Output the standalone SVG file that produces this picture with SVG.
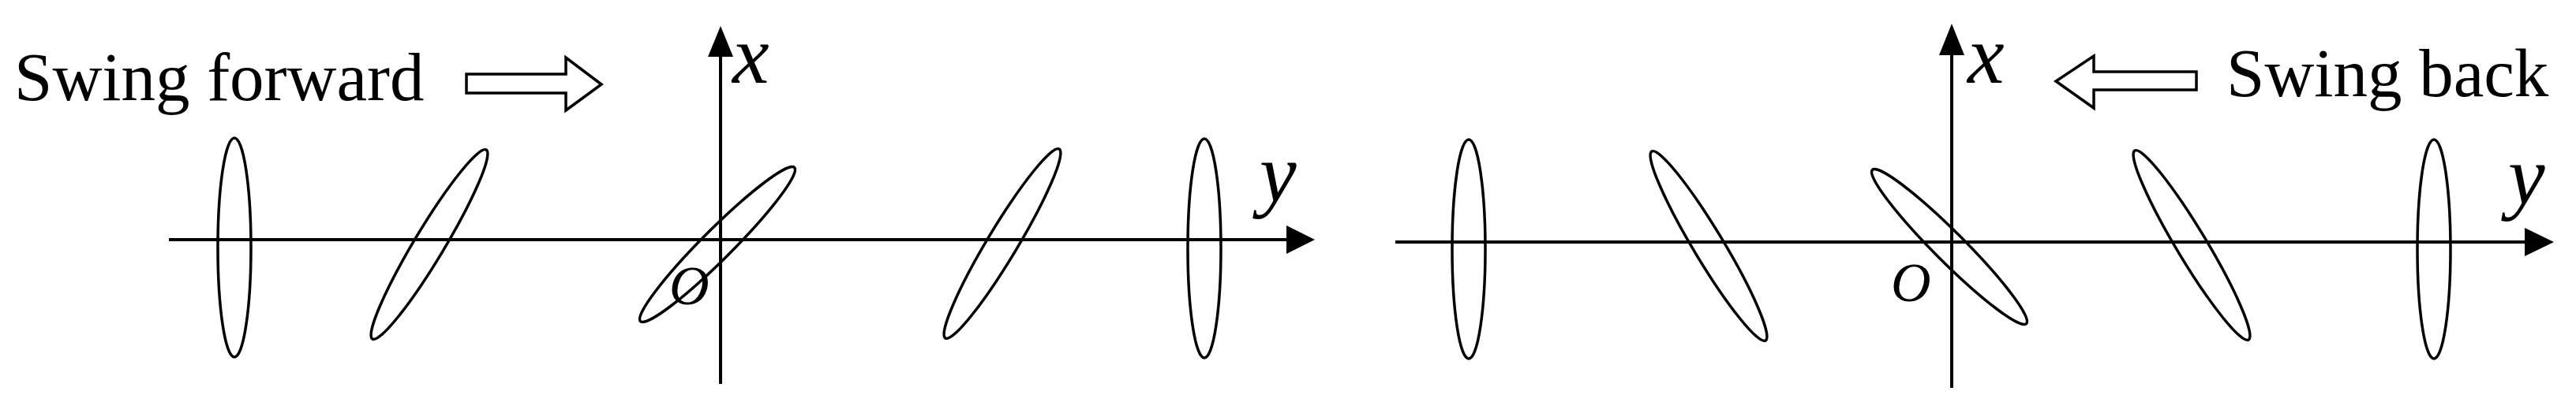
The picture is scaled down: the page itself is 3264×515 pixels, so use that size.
<svg xmlns="http://www.w3.org/2000/svg" width="3264" height="515" viewBox="0 0 3264 515">
<style>
.el{fill:none;stroke:#000;stroke-width:3.5}
.ax{stroke:#000;stroke-width:4;fill:none}
.ah{fill:#000;stroke:none}
.lbl{font-family:"Liberation Serif","Times New Roman",serif;font-style:italic;fill:#000}
.txt{font-family:"Liberation Serif","Times New Roman",serif;font-size:87px;fill:#000}
.blk{fill:#fff;stroke:#000;stroke-width:3.5;stroke-linejoin:miter}
</style>
<rect width="3264" height="515" fill="#fff"/>
<g id="connectors">
  <line class="ax" x1="214" y1="304" x2="1632" y2="304"/>
  <polygon class="ah" points="1630,286 1666,304 1630,322"/>
  <line class="ax" x1="913" y1="487" x2="913" y2="70"/>
  <polygon class="ah" points="897,72 913,33 929,72"/>
  <line class="ax" x1="1768" y1="307" x2="3201" y2="307"/>
  <polygon class="ah" points="3199,289 3236,307 3199,325"/>
  <line class="ax" x1="2473" y1="492" x2="2473" y2="68"/>
  <polygon class="ah" points="2457,70 2473,30 2489,70"/>
</g>
<g id="label-swing-forward">
  <text class="txt" x="18" y="127">Swing forward</text>
  <polygon class="blk" points="591,94 717,94 717,73 762,107 717,140 717,118 591,118"/>
</g>
<g id="label-swing-back">
  <text class="txt" x="2821" y="122">Swing back</text>
  <polygon class="blk" points="2783,91 2653,91 2653,71 2605,103 2653,137 2653,114 2783,114"/>
</g>
<g id="axis-labels">
  <text class="lbl" x="928" y="105" font-size="105">x</text>
  <text class="lbl" x="1596" y="255" font-size="105">y</text>
  <text class="lbl" x="848" y="386" font-size="70">O</text>
  <text class="lbl" x="2493" y="105" font-size="105">x</text>
  <text class="lbl" x="3178" y="258" font-size="105">y</text>
  <text class="lbl" x="2396" y="382" font-size="70">O</text>
</g>
<g id="left-ellipses">
  <ellipse id="L1" class="el" cx="297" cy="314" rx="21" ry="139"/>
  <ellipse id="L2" class="el" cx="0" cy="0" rx="19" ry="140" transform="translate(544,310) rotate(31)"/>
  <ellipse id="L3" class="el" cx="0" cy="0" rx="19" ry="138" transform="translate(909,310) rotate(45)"/>
  <ellipse id="L4" class="el" cx="0" cy="0" rx="19" ry="140" transform="translate(1270,309) rotate(31)"/>
  <ellipse id="L5" class="el" cx="1526" cy="315" rx="21" ry="139"/>
</g>
<g id="right-ellipses">
  <ellipse id="R1" class="el" cx="1861" cy="316" rx="21" ry="139"/>
  <ellipse id="R2" class="el" cx="0" cy="0" rx="19" ry="140" transform="translate(2165,312) rotate(-31)"/>
  <ellipse id="R3" class="el" cx="0" cy="0" rx="19" ry="138" transform="translate(2470,313) rotate(-45)"/>
  <ellipse id="R4" class="el" cx="0" cy="0" rx="19" ry="140" transform="translate(2777,311) rotate(-31)"/>
  <ellipse id="R5" class="el" cx="3084" cy="316" rx="21" ry="139"/>
</g>
</svg>
